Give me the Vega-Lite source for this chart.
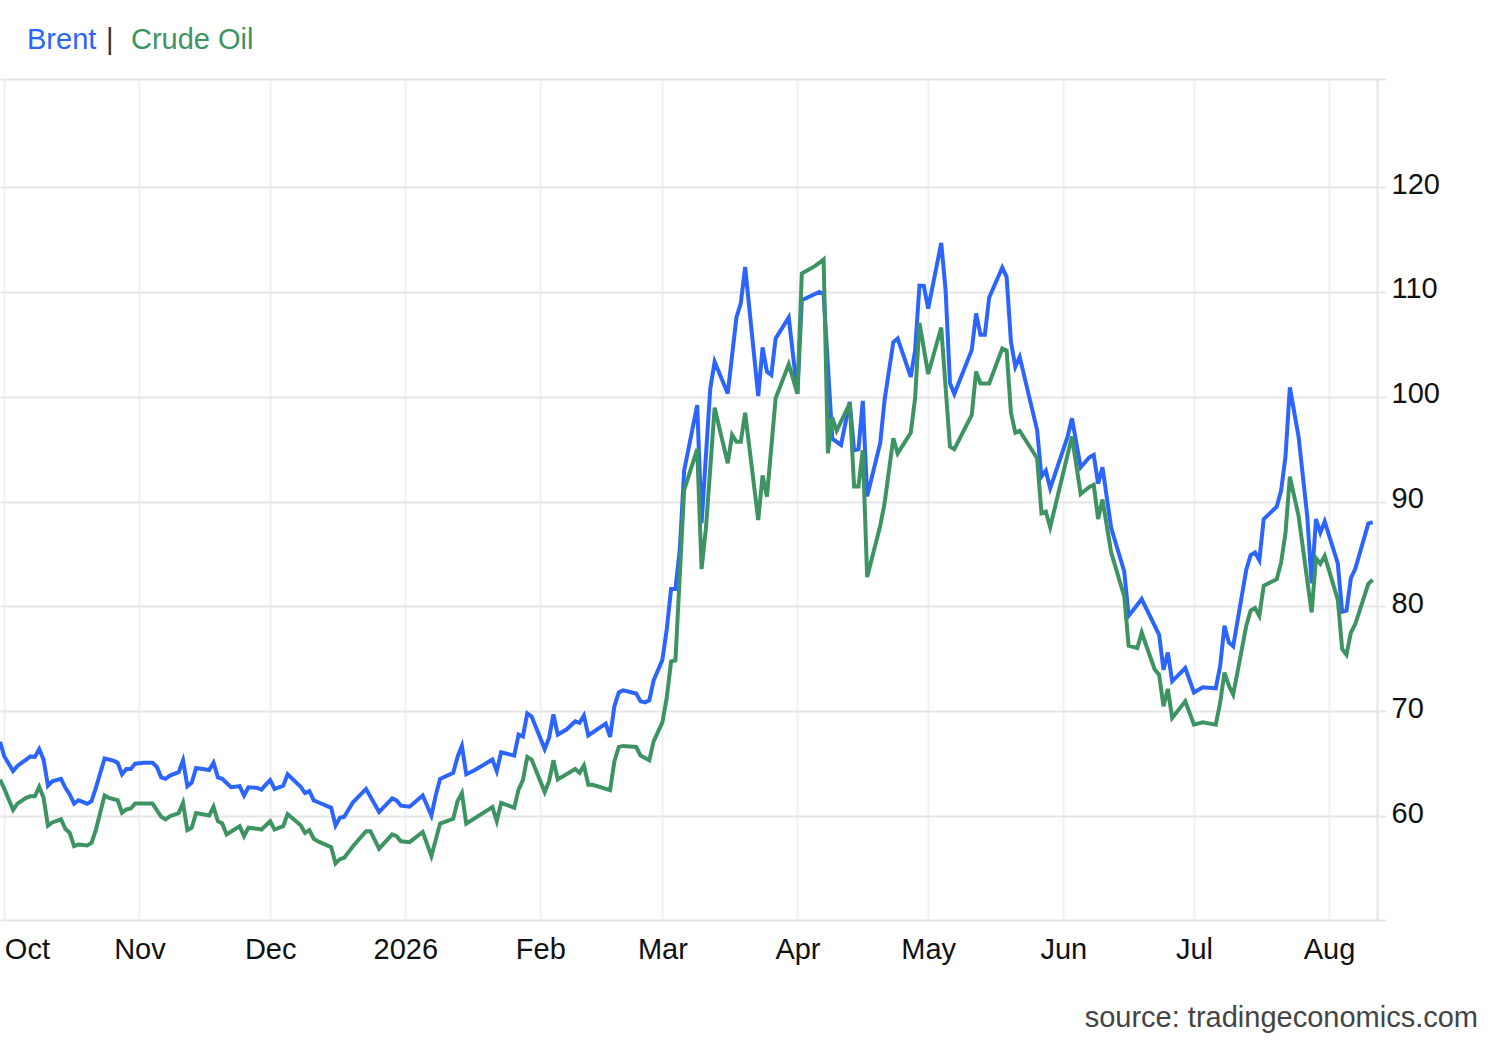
{
  "$schema": "https://vega.github.io/schema/vega-lite/v6.json",
  "description": "Brent vs Crude Oil daily prices, Oct 2025 - Aug 2026",
  "autosize": {"type": "none"},
  "width": 1377,
  "height": 841,
  "padding": {"left": 0, "top": 79, "right": 123, "bottom": 120},
  "background": "white",
  "config": {
    "view": {"stroke": null},
    "font": "Liberation Sans"
  },
  "title": {
    "text": "source: tradingeconomics.com",
    "orient": "bottom",
    "anchor": "end",
    "frame": "group",
    "baseline": "alphabetic",
    "offset": 63,
    "dx": 101,
    "fontSize": 29,
    "fontWeight": "normal",
    "font": "Liberation Sans",
    "color": "#444444"
  },
  "data": {
    "values": [
      {"date": "2025-09-30", "series": "Brent", "price": 67.1},
      {"date": "2025-10-01", "series": "Brent", "price": 65.7},
      {"date": "2025-10-03", "series": "Brent", "price": 64.3},
      {"date": "2025-10-04", "series": "Brent", "price": 64.8},
      {"date": "2025-10-06", "series": "Brent", "price": 65.4},
      {"date": "2025-10-07", "series": "Brent", "price": 65.7},
      {"date": "2025-10-08", "series": "Brent", "price": 65.65},
      {"date": "2025-10-09", "series": "Brent", "price": 66.4},
      {"date": "2025-10-10", "series": "Brent", "price": 65.4},
      {"date": "2025-10-11", "series": "Brent", "price": 62.9},
      {"date": "2025-10-12", "series": "Brent", "price": 63.33},
      {"date": "2025-10-14", "series": "Brent", "price": 63.56},
      {"date": "2025-10-15", "series": "Brent", "price": 62.7},
      {"date": "2025-10-16", "series": "Brent", "price": 62.07},
      {"date": "2025-10-17", "series": "Brent", "price": 61.2},
      {"date": "2025-10-18", "series": "Brent", "price": 61.52},
      {"date": "2025-10-19", "series": "Brent", "price": 61.37},
      {"date": "2025-10-20", "series": "Brent", "price": 61.18},
      {"date": "2025-10-21", "series": "Brent", "price": 61.43},
      {"date": "2025-10-22", "series": "Brent", "price": 62.7},
      {"date": "2025-10-24", "series": "Brent", "price": 65.5},
      {"date": "2025-10-26", "series": "Brent", "price": 65.3},
      {"date": "2025-10-27", "series": "Brent", "price": 65.1},
      {"date": "2025-10-28", "series": "Brent", "price": 64.0},
      {"date": "2025-10-29", "series": "Brent", "price": 64.5},
      {"date": "2025-10-30", "series": "Brent", "price": 64.5},
      {"date": "2025-10-31", "series": "Brent", "price": 65.0},
      {"date": "2025-11-02", "series": "Brent", "price": 65.1},
      {"date": "2025-11-04", "series": "Brent", "price": 65.1},
      {"date": "2025-11-05", "series": "Brent", "price": 64.7},
      {"date": "2025-11-06", "series": "Brent", "price": 63.7},
      {"date": "2025-11-07", "series": "Brent", "price": 63.56},
      {"date": "2025-11-08", "series": "Brent", "price": 63.87},
      {"date": "2025-11-10", "series": "Brent", "price": 64.2},
      {"date": "2025-11-11", "series": "Brent", "price": 65.33},
      {"date": "2025-11-12", "series": "Brent", "price": 62.86},
      {"date": "2025-11-13", "series": "Brent", "price": 63.2},
      {"date": "2025-11-14", "series": "Brent", "price": 64.6},
      {"date": "2025-11-17", "series": "Brent", "price": 64.4},
      {"date": "2025-11-18", "series": "Brent", "price": 65.1},
      {"date": "2025-11-19", "series": "Brent", "price": 63.7},
      {"date": "2025-11-20", "series": "Brent", "price": 63.56},
      {"date": "2025-11-22", "series": "Brent", "price": 62.76},
      {"date": "2025-11-24", "series": "Brent", "price": 62.86},
      {"date": "2025-11-25", "series": "Brent", "price": 61.97},
      {"date": "2025-11-26", "series": "Brent", "price": 62.76},
      {"date": "2025-11-28", "series": "Brent", "price": 62.7},
      {"date": "2025-11-29", "series": "Brent", "price": 62.54},
      {"date": "2025-11-30", "series": "Brent", "price": 63.0},
      {"date": "2025-12-01", "series": "Brent", "price": 63.43},
      {"date": "2025-12-02", "series": "Brent", "price": 62.6},
      {"date": "2025-12-04", "series": "Brent", "price": 62.9},
      {"date": "2025-12-05", "series": "Brent", "price": 64.0},
      {"date": "2025-12-08", "series": "Brent", "price": 62.8},
      {"date": "2025-12-09", "series": "Brent", "price": 62.2},
      {"date": "2025-12-10", "series": "Brent", "price": 62.38},
      {"date": "2025-12-11", "series": "Brent", "price": 61.5},
      {"date": "2025-12-12", "series": "Brent", "price": 61.33},
      {"date": "2025-12-15", "series": "Brent", "price": 60.8},
      {"date": "2025-12-16", "series": "Brent", "price": 59.1},
      {"date": "2025-12-17", "series": "Brent", "price": 59.85},
      {"date": "2025-12-18", "series": "Brent", "price": 59.94},
      {"date": "2025-12-20", "series": "Brent", "price": 61.33},
      {"date": "2025-12-23", "series": "Brent", "price": 62.6},
      {"date": "2025-12-26", "series": "Brent", "price": 60.4},
      {"date": "2025-12-29", "series": "Brent", "price": 61.7},
      {"date": "2025-12-30", "series": "Brent", "price": 61.5},
      {"date": "2025-12-31", "series": "Brent", "price": 61.0},
      {"date": "2026-01-02", "series": "Brent", "price": 60.9},
      {"date": "2026-01-05", "series": "Brent", "price": 61.97},
      {"date": "2026-01-07", "series": "Brent", "price": 60.06},
      {"date": "2026-01-08", "series": "Brent", "price": 62.0},
      {"date": "2026-01-09", "series": "Brent", "price": 63.56},
      {"date": "2026-01-12", "series": "Brent", "price": 64.13},
      {"date": "2026-01-13", "series": "Brent", "price": 65.65},
      {"date": "2026-01-14", "series": "Brent", "price": 66.7},
      {"date": "2026-01-15", "series": "Brent", "price": 64.0},
      {"date": "2026-01-17", "series": "Brent", "price": 64.4},
      {"date": "2026-01-21", "series": "Brent", "price": 65.4},
      {"date": "2026-01-22", "series": "Brent", "price": 64.3},
      {"date": "2026-01-23", "series": "Brent", "price": 66.1},
      {"date": "2026-01-26", "series": "Brent", "price": 65.78},
      {"date": "2026-01-27", "series": "Brent", "price": 67.78},
      {"date": "2026-01-28", "series": "Brent", "price": 67.6},
      {"date": "2026-01-29", "series": "Brent", "price": 69.8},
      {"date": "2026-01-30", "series": "Brent", "price": 69.5},
      {"date": "2026-02-02", "series": "Brent", "price": 66.4},
      {"date": "2026-02-03", "series": "Brent", "price": 67.46},
      {"date": "2026-02-04", "series": "Brent", "price": 69.7},
      {"date": "2026-02-05", "series": "Brent", "price": 67.78},
      {"date": "2026-02-07", "series": "Brent", "price": 68.26},
      {"date": "2026-02-09", "series": "Brent", "price": 69.05},
      {"date": "2026-02-10", "series": "Brent", "price": 68.9},
      {"date": "2026-02-11", "series": "Brent", "price": 69.6},
      {"date": "2026-02-12", "series": "Brent", "price": 67.7},
      {"date": "2026-02-16", "series": "Brent", "price": 68.83},
      {"date": "2026-02-17", "series": "Brent", "price": 67.56},
      {"date": "2026-02-18", "series": "Brent", "price": 70.5},
      {"date": "2026-02-19", "series": "Brent", "price": 71.8},
      {"date": "2026-02-20", "series": "Brent", "price": 72.0},
      {"date": "2026-02-23", "series": "Brent", "price": 71.7},
      {"date": "2026-02-24", "series": "Brent", "price": 70.95},
      {"date": "2026-02-25", "series": "Brent", "price": 70.86},
      {"date": "2026-02-26", "series": "Brent", "price": 71.05},
      {"date": "2026-02-27", "series": "Brent", "price": 72.95},
      {"date": "2026-03-01", "series": "Brent", "price": 74.9},
      {"date": "2026-03-02", "series": "Brent", "price": 77.78},
      {"date": "2026-03-03", "series": "Brent", "price": 81.66},
      {"date": "2026-03-04", "series": "Brent", "price": 81.66},
      {"date": "2026-03-05", "series": "Brent", "price": 85.4},
      {"date": "2026-03-06", "series": "Brent", "price": 92.95},
      {"date": "2026-03-09", "series": "Brent", "price": 99.2},
      {"date": "2026-03-10", "series": "Brent", "price": 87.94},
      {"date": "2026-03-12", "series": "Brent", "price": 100.8},
      {"date": "2026-03-13", "series": "Brent", "price": 103.33},
      {"date": "2026-03-16", "series": "Brent", "price": 100.3},
      {"date": "2026-03-18", "series": "Brent", "price": 107.56},
      {"date": "2026-03-19", "series": "Brent", "price": 108.9},
      {"date": "2026-03-20", "series": "Brent", "price": 112.38},
      {"date": "2026-03-23", "series": "Brent", "price": 100.07},
      {"date": "2026-03-24", "series": "Brent", "price": 104.7},
      {"date": "2026-03-25", "series": "Brent", "price": 102.4},
      {"date": "2026-03-26", "series": "Brent", "price": 102.07},
      {"date": "2026-03-27", "series": "Brent", "price": 105.56},
      {"date": "2026-03-30", "series": "Brent", "price": 107.56},
      {"date": "2026-04-01", "series": "Brent", "price": 100.3},
      {"date": "2026-04-02", "series": "Brent", "price": 109.2},
      {"date": "2026-04-06", "series": "Brent", "price": 110.0},
      {"date": "2026-04-07", "series": "Brent", "price": 109.8},
      {"date": "2026-04-09", "series": "Brent", "price": 96.0},
      {"date": "2026-04-11", "series": "Brent", "price": 95.4},
      {"date": "2026-04-13", "series": "Brent", "price": 99.5},
      {"date": "2026-04-14", "series": "Brent", "price": 94.9},
      {"date": "2026-04-15", "series": "Brent", "price": 95.0},
      {"date": "2026-04-16", "series": "Brent", "price": 99.6},
      {"date": "2026-04-17", "series": "Brent", "price": 90.5},
      {"date": "2026-04-20", "series": "Brent", "price": 95.6},
      {"date": "2026-04-21", "series": "Brent", "price": 99.7},
      {"date": "2026-04-23", "series": "Brent", "price": 105.2},
      {"date": "2026-04-24", "series": "Brent", "price": 105.56},
      {"date": "2026-04-27", "series": "Brent", "price": 101.9},
      {"date": "2026-04-28", "series": "Brent", "price": 104.4},
      {"date": "2026-04-29", "series": "Brent", "price": 110.6},
      {"date": "2026-04-30", "series": "Brent", "price": 110.57},
      {"date": "2026-05-01", "series": "Brent", "price": 108.4},
      {"date": "2026-05-04", "series": "Brent", "price": 114.67},
      {"date": "2026-05-05", "series": "Brent", "price": 110.16},
      {"date": "2026-05-06", "series": "Brent", "price": 101.3},
      {"date": "2026-05-07", "series": "Brent", "price": 100.26},
      {"date": "2026-05-11", "series": "Brent", "price": 104.45},
      {"date": "2026-05-12", "series": "Brent", "price": 107.94},
      {"date": "2026-05-13", "series": "Brent", "price": 105.9},
      {"date": "2026-05-14", "series": "Brent", "price": 105.9},
      {"date": "2026-05-15", "series": "Brent", "price": 109.47},
      {"date": "2026-05-18", "series": "Brent", "price": 112.32},
      {"date": "2026-05-19", "series": "Brent", "price": 111.43},
      {"date": "2026-05-20", "series": "Brent", "price": 105.24},
      {"date": "2026-05-21", "series": "Brent", "price": 102.86},
      {"date": "2026-05-22", "series": "Brent", "price": 103.8},
      {"date": "2026-05-26", "series": "Brent", "price": 96.83},
      {"date": "2026-05-27", "series": "Brent", "price": 92.38},
      {"date": "2026-05-28", "series": "Brent", "price": 92.95},
      {"date": "2026-05-29", "series": "Brent", "price": 91.27},
      {"date": "2026-06-02", "series": "Brent", "price": 96.2},
      {"date": "2026-06-03", "series": "Brent", "price": 97.94},
      {"date": "2026-06-05", "series": "Brent", "price": 93.27},
      {"date": "2026-06-07", "series": "Brent", "price": 94.23},
      {"date": "2026-06-08", "series": "Brent", "price": 94.45},
      {"date": "2026-06-09", "series": "Brent", "price": 91.7},
      {"date": "2026-06-10", "series": "Brent", "price": 93.27},
      {"date": "2026-06-12", "series": "Brent", "price": 87.47},
      {"date": "2026-06-15", "series": "Brent", "price": 83.33},
      {"date": "2026-06-16", "series": "Brent", "price": 79.1},
      {"date": "2026-06-18", "series": "Brent", "price": 80.16},
      {"date": "2026-06-19", "series": "Brent", "price": 80.7},
      {"date": "2026-06-23", "series": "Brent", "price": 77.3},
      {"date": "2026-06-24", "series": "Brent", "price": 73.97},
      {"date": "2026-06-25", "series": "Brent", "price": 75.6},
      {"date": "2026-06-26", "series": "Brent", "price": 72.86},
      {"date": "2026-06-29", "series": "Brent", "price": 74.13},
      {"date": "2026-07-01", "series": "Brent", "price": 71.8},
      {"date": "2026-07-03", "series": "Brent", "price": 72.3},
      {"date": "2026-07-06", "series": "Brent", "price": 72.2},
      {"date": "2026-07-07", "series": "Brent", "price": 74.3},
      {"date": "2026-07-08", "series": "Brent", "price": 78.16},
      {"date": "2026-07-09", "series": "Brent", "price": 76.57},
      {"date": "2026-07-10", "series": "Brent", "price": 76.2},
      {"date": "2026-07-13", "series": "Brent", "price": 83.5},
      {"date": "2026-07-14", "series": "Brent", "price": 84.9},
      {"date": "2026-07-15", "series": "Brent", "price": 85.14},
      {"date": "2026-07-16", "series": "Brent", "price": 84.4},
      {"date": "2026-07-17", "series": "Brent", "price": 88.33},
      {"date": "2026-07-20", "series": "Brent", "price": 89.52},
      {"date": "2026-07-21", "series": "Brent", "price": 91.05},
      {"date": "2026-07-22", "series": "Brent", "price": 94.3},
      {"date": "2026-07-23", "series": "Brent", "price": 100.9},
      {"date": "2026-07-25", "series": "Brent", "price": 96.2},
      {"date": "2026-07-27", "series": "Brent", "price": 88.57},
      {"date": "2026-07-28", "series": "Brent", "price": 82.2},
      {"date": "2026-07-29", "series": "Brent", "price": 88.33},
      {"date": "2026-07-30", "series": "Brent", "price": 87.05},
      {"date": "2026-07-31", "series": "Brent", "price": 88.1},
      {"date": "2026-08-03", "series": "Brent", "price": 84.1},
      {"date": "2026-08-04", "series": "Brent", "price": 79.5},
      {"date": "2026-08-05", "series": "Brent", "price": 79.6},
      {"date": "2026-08-06", "series": "Brent", "price": 82.7},
      {"date": "2026-08-07", "series": "Brent", "price": 83.56},
      {"date": "2026-08-10", "series": "Brent", "price": 87.9},
      {"date": "2026-08-11", "series": "Brent", "price": 88.05},
      {"date": "2025-09-30", "series": "Crude Oil", "price": 63.5},
      {"date": "2025-10-01", "series": "Crude Oil", "price": 62.6},
      {"date": "2025-10-03", "series": "Crude Oil", "price": 60.6},
      {"date": "2025-10-04", "series": "Crude Oil", "price": 61.2},
      {"date": "2025-10-06", "series": "Crude Oil", "price": 61.75},
      {"date": "2025-10-07", "series": "Crude Oil", "price": 61.9},
      {"date": "2025-10-08", "series": "Crude Oil", "price": 61.9},
      {"date": "2025-10-09", "series": "Crude Oil", "price": 62.8},
      {"date": "2025-10-10", "series": "Crude Oil", "price": 61.75},
      {"date": "2025-10-11", "series": "Crude Oil", "price": 59.1},
      {"date": "2025-10-12", "series": "Crude Oil", "price": 59.4},
      {"date": "2025-10-14", "series": "Crude Oil", "price": 59.7},
      {"date": "2025-10-15", "series": "Crude Oil", "price": 58.8},
      {"date": "2025-10-16", "series": "Crude Oil", "price": 58.4},
      {"date": "2025-10-17", "series": "Crude Oil", "price": 57.14},
      {"date": "2025-10-18", "series": "Crude Oil", "price": 57.3},
      {"date": "2025-10-20", "series": "Crude Oil", "price": 57.2},
      {"date": "2025-10-21", "series": "Crude Oil", "price": 57.46},
      {"date": "2025-10-22", "series": "Crude Oil", "price": 58.7},
      {"date": "2025-10-24", "series": "Crude Oil", "price": 61.97},
      {"date": "2025-10-25", "series": "Crude Oil", "price": 61.75},
      {"date": "2025-10-27", "series": "Crude Oil", "price": 61.52},
      {"date": "2025-10-28", "series": "Crude Oil", "price": 60.33},
      {"date": "2025-10-29", "series": "Crude Oil", "price": 60.64},
      {"date": "2025-10-30", "series": "Crude Oil", "price": 60.73},
      {"date": "2025-10-31", "series": "Crude Oil", "price": 61.2},
      {"date": "2025-11-04", "series": "Crude Oil", "price": 61.2},
      {"date": "2025-11-06", "series": "Crude Oil", "price": 59.94},
      {"date": "2025-11-07", "series": "Crude Oil", "price": 59.7},
      {"date": "2025-11-08", "series": "Crude Oil", "price": 60.0},
      {"date": "2025-11-10", "series": "Crude Oil", "price": 60.3},
      {"date": "2025-11-11", "series": "Crude Oil", "price": 61.27},
      {"date": "2025-11-12", "series": "Crude Oil", "price": 58.67},
      {"date": "2025-11-13", "series": "Crude Oil", "price": 58.9},
      {"date": "2025-11-14", "series": "Crude Oil", "price": 60.3},
      {"date": "2025-11-17", "series": "Crude Oil", "price": 60.06},
      {"date": "2025-11-18", "series": "Crude Oil", "price": 60.9},
      {"date": "2025-11-19", "series": "Crude Oil", "price": 59.52},
      {"date": "2025-11-20", "series": "Crude Oil", "price": 59.3},
      {"date": "2025-11-21", "series": "Crude Oil", "price": 58.26},
      {"date": "2025-11-24", "series": "Crude Oil", "price": 59.05},
      {"date": "2025-11-25", "series": "Crude Oil", "price": 58.1},
      {"date": "2025-11-26", "series": "Crude Oil", "price": 58.9},
      {"date": "2025-11-28", "series": "Crude Oil", "price": 58.8},
      {"date": "2025-11-29", "series": "Crude Oil", "price": 58.73},
      {"date": "2025-12-01", "series": "Crude Oil", "price": 59.52},
      {"date": "2025-12-02", "series": "Crude Oil", "price": 58.73},
      {"date": "2025-12-04", "series": "Crude Oil", "price": 59.05},
      {"date": "2025-12-05", "series": "Crude Oil", "price": 60.2},
      {"date": "2025-12-08", "series": "Crude Oil", "price": 59.14},
      {"date": "2025-12-09", "series": "Crude Oil", "price": 58.4},
      {"date": "2025-12-10", "series": "Crude Oil", "price": 58.67},
      {"date": "2025-12-11", "series": "Crude Oil", "price": 57.85},
      {"date": "2025-12-12", "series": "Crude Oil", "price": 57.6},
      {"date": "2025-12-15", "series": "Crude Oil", "price": 57.05},
      {"date": "2025-12-16", "series": "Crude Oil", "price": 55.5},
      {"date": "2025-12-17", "series": "Crude Oil", "price": 55.9},
      {"date": "2025-12-18", "series": "Crude Oil", "price": 56.04},
      {"date": "2025-12-20", "series": "Crude Oil", "price": 57.14},
      {"date": "2025-12-23", "series": "Crude Oil", "price": 58.57},
      {"date": "2025-12-24", "series": "Crude Oil", "price": 58.57},
      {"date": "2025-12-26", "series": "Crude Oil", "price": 56.9},
      {"date": "2025-12-29", "series": "Crude Oil", "price": 58.26},
      {"date": "2025-12-30", "series": "Crude Oil", "price": 58.1},
      {"date": "2025-12-31", "series": "Crude Oil", "price": 57.6},
      {"date": "2026-01-02", "series": "Crude Oil", "price": 57.52},
      {"date": "2026-01-05", "series": "Crude Oil", "price": 58.5},
      {"date": "2026-01-07", "series": "Crude Oil", "price": 56.2},
      {"date": "2026-01-09", "series": "Crude Oil", "price": 59.3},
      {"date": "2026-01-12", "series": "Crude Oil", "price": 59.75},
      {"date": "2026-01-13", "series": "Crude Oil", "price": 61.43},
      {"date": "2026-01-14", "series": "Crude Oil", "price": 62.2},
      {"date": "2026-01-15", "series": "Crude Oil", "price": 59.28},
      {"date": "2026-01-21", "series": "Crude Oil", "price": 60.86},
      {"date": "2026-01-22", "series": "Crude Oil", "price": 59.52},
      {"date": "2026-01-23", "series": "Crude Oil", "price": 61.27},
      {"date": "2026-01-26", "series": "Crude Oil", "price": 60.8},
      {"date": "2026-01-27", "series": "Crude Oil", "price": 62.54},
      {"date": "2026-01-28", "series": "Crude Oil", "price": 63.43},
      {"date": "2026-01-29", "series": "Crude Oil", "price": 65.65},
      {"date": "2026-01-30", "series": "Crude Oil", "price": 65.4},
      {"date": "2026-02-02", "series": "Crude Oil", "price": 62.3},
      {"date": "2026-02-03", "series": "Crude Oil", "price": 63.33},
      {"date": "2026-02-04", "series": "Crude Oil", "price": 65.33},
      {"date": "2026-02-05", "series": "Crude Oil", "price": 63.5},
      {"date": "2026-02-09", "series": "Crude Oil", "price": 64.5},
      {"date": "2026-02-10", "series": "Crude Oil", "price": 64.13},
      {"date": "2026-02-11", "series": "Crude Oil", "price": 64.83},
      {"date": "2026-02-12", "series": "Crude Oil", "price": 63.0},
      {"date": "2026-02-13", "series": "Crude Oil", "price": 63.0},
      {"date": "2026-02-17", "series": "Crude Oil", "price": 62.48},
      {"date": "2026-02-18", "series": "Crude Oil", "price": 65.24},
      {"date": "2026-02-19", "series": "Crude Oil", "price": 66.6},
      {"date": "2026-02-20", "series": "Crude Oil", "price": 66.7},
      {"date": "2026-02-23", "series": "Crude Oil", "price": 66.6},
      {"date": "2026-02-24", "series": "Crude Oil", "price": 65.78},
      {"date": "2026-02-26", "series": "Crude Oil", "price": 65.33},
      {"date": "2026-02-27", "series": "Crude Oil", "price": 67.14},
      {"date": "2026-03-01", "series": "Crude Oil", "price": 68.95},
      {"date": "2026-03-02", "series": "Crude Oil", "price": 71.28},
      {"date": "2026-03-03", "series": "Crude Oil", "price": 74.76},
      {"date": "2026-03-04", "series": "Crude Oil", "price": 74.86},
      {"date": "2026-03-06", "series": "Crude Oil", "price": 91.1},
      {"date": "2026-03-09", "series": "Crude Oil", "price": 95.0},
      {"date": "2026-03-10", "series": "Crude Oil", "price": 83.56},
      {"date": "2026-03-11", "series": "Crude Oil", "price": 87.47},
      {"date": "2026-03-13", "series": "Crude Oil", "price": 98.95},
      {"date": "2026-03-16", "series": "Crude Oil", "price": 93.66},
      {"date": "2026-03-17", "series": "Crude Oil", "price": 96.36},
      {"date": "2026-03-18", "series": "Crude Oil", "price": 95.7},
      {"date": "2026-03-19", "series": "Crude Oil", "price": 95.7},
      {"date": "2026-03-20", "series": "Crude Oil", "price": 98.48},
      {"date": "2026-03-23", "series": "Crude Oil", "price": 88.25},
      {"date": "2026-03-24", "series": "Crude Oil", "price": 92.5},
      {"date": "2026-03-25", "series": "Crude Oil", "price": 90.48},
      {"date": "2026-03-27", "series": "Crude Oil", "price": 99.85},
      {"date": "2026-03-30", "series": "Crude Oil", "price": 103.1},
      {"date": "2026-04-01", "series": "Crude Oil", "price": 100.3},
      {"date": "2026-04-02", "series": "Crude Oil", "price": 111.75},
      {"date": "2026-04-05", "series": "Crude Oil", "price": 112.45},
      {"date": "2026-04-06", "series": "Crude Oil", "price": 112.76},
      {"date": "2026-04-07", "series": "Crude Oil", "price": 113.1},
      {"date": "2026-04-08", "series": "Crude Oil", "price": 94.6},
      {"date": "2026-04-09", "series": "Crude Oil", "price": 98.0},
      {"date": "2026-04-10", "series": "Crude Oil", "price": 96.76},
      {"date": "2026-04-13", "series": "Crude Oil", "price": 99.37},
      {"date": "2026-04-14", "series": "Crude Oil", "price": 91.43},
      {"date": "2026-04-15", "series": "Crude Oil", "price": 91.43},
      {"date": "2026-04-16", "series": "Crude Oil", "price": 94.9},
      {"date": "2026-04-17", "series": "Crude Oil", "price": 82.8},
      {"date": "2026-04-20", "series": "Crude Oil", "price": 87.7},
      {"date": "2026-04-21", "series": "Crude Oil", "price": 89.85},
      {"date": "2026-04-23", "series": "Crude Oil", "price": 96.04},
      {"date": "2026-04-24", "series": "Crude Oil", "price": 94.6},
      {"date": "2026-04-27", "series": "Crude Oil", "price": 96.57},
      {"date": "2026-04-28", "series": "Crude Oil", "price": 99.85},
      {"date": "2026-04-29", "series": "Crude Oil", "price": 107.05},
      {"date": "2026-05-01", "series": "Crude Oil", "price": 102.16},
      {"date": "2026-05-04", "series": "Crude Oil", "price": 106.6},
      {"date": "2026-05-06", "series": "Crude Oil", "price": 95.24},
      {"date": "2026-05-07", "series": "Crude Oil", "price": 95.0},
      {"date": "2026-05-11", "series": "Crude Oil", "price": 98.26},
      {"date": "2026-05-12", "series": "Crude Oil", "price": 102.4},
      {"date": "2026-05-13", "series": "Crude Oil", "price": 101.27},
      {"date": "2026-05-15", "series": "Crude Oil", "price": 101.27},
      {"date": "2026-05-18", "series": "Crude Oil", "price": 104.6},
      {"date": "2026-05-19", "series": "Crude Oil", "price": 104.4},
      {"date": "2026-05-20", "series": "Crude Oil", "price": 98.48},
      {"date": "2026-05-21", "series": "Crude Oil", "price": 96.57},
      {"date": "2026-05-22", "series": "Crude Oil", "price": 96.76},
      {"date": "2026-05-26", "series": "Crude Oil", "price": 94.13},
      {"date": "2026-05-27", "series": "Crude Oil", "price": 88.9},
      {"date": "2026-05-28", "series": "Crude Oil", "price": 89.05},
      {"date": "2026-05-29", "series": "Crude Oil", "price": 87.56},
      {"date": "2026-06-03", "series": "Crude Oil", "price": 96.2},
      {"date": "2026-06-05", "series": "Crude Oil", "price": 90.73},
      {"date": "2026-06-07", "series": "Crude Oil", "price": 91.4},
      {"date": "2026-06-08", "series": "Crude Oil", "price": 91.6},
      {"date": "2026-06-09", "series": "Crude Oil", "price": 88.33},
      {"date": "2026-06-10", "series": "Crude Oil", "price": 90.2},
      {"date": "2026-06-12", "series": "Crude Oil", "price": 85.14},
      {"date": "2026-06-15", "series": "Crude Oil", "price": 80.95},
      {"date": "2026-06-16", "series": "Crude Oil", "price": 76.26},
      {"date": "2026-06-18", "series": "Crude Oil", "price": 76.04},
      {"date": "2026-06-19", "series": "Crude Oil", "price": 77.52},
      {"date": "2026-06-22", "series": "Crude Oil", "price": 73.97},
      {"date": "2026-06-23", "series": "Crude Oil", "price": 73.5},
      {"date": "2026-06-24", "series": "Crude Oil", "price": 70.48},
      {"date": "2026-06-25", "series": "Crude Oil", "price": 72.14},
      {"date": "2026-06-26", "series": "Crude Oil", "price": 69.37},
      {"date": "2026-06-29", "series": "Crude Oil", "price": 70.95},
      {"date": "2026-07-01", "series": "Crude Oil", "price": 68.73},
      {"date": "2026-07-03", "series": "Crude Oil", "price": 68.95},
      {"date": "2026-07-06", "series": "Crude Oil", "price": 68.73},
      {"date": "2026-07-07", "series": "Crude Oil", "price": 70.8},
      {"date": "2026-07-08", "series": "Crude Oil", "price": 73.7},
      {"date": "2026-07-09", "series": "Crude Oil", "price": 72.45},
      {"date": "2026-07-10", "series": "Crude Oil", "price": 71.6},
      {"date": "2026-07-13", "series": "Crude Oil", "price": 78.16},
      {"date": "2026-07-14", "series": "Crude Oil", "price": 79.6},
      {"date": "2026-07-15", "series": "Crude Oil", "price": 79.85},
      {"date": "2026-07-16", "series": "Crude Oil", "price": 79.1},
      {"date": "2026-07-17", "series": "Crude Oil", "price": 81.97},
      {"date": "2026-07-20", "series": "Crude Oil", "price": 82.6},
      {"date": "2026-07-21", "series": "Crude Oil", "price": 84.2},
      {"date": "2026-07-22", "series": "Crude Oil", "price": 87.0},
      {"date": "2026-07-23", "series": "Crude Oil", "price": 92.38},
      {"date": "2026-07-25", "series": "Crude Oil", "price": 88.64},
      {"date": "2026-07-28", "series": "Crude Oil", "price": 79.43},
      {"date": "2026-07-29", "series": "Crude Oil", "price": 84.6},
      {"date": "2026-07-30", "series": "Crude Oil", "price": 84.07},
      {"date": "2026-07-31", "series": "Crude Oil", "price": 84.83},
      {"date": "2026-08-03", "series": "Crude Oil", "price": 80.65},
      {"date": "2026-08-04", "series": "Crude Oil", "price": 75.95},
      {"date": "2026-08-05", "series": "Crude Oil", "price": 75.4},
      {"date": "2026-08-06", "series": "Crude Oil", "price": 77.5},
      {"date": "2026-08-07", "series": "Crude Oil", "price": 78.3},
      {"date": "2026-08-10", "series": "Crude Oil", "price": 82.16},
      {"date": "2026-08-11", "series": "Crude Oil", "price": 82.55}
    ]
  },
  "mark": {"type": "line", "strokeWidth": 4, "clip": true},
  "encoding": {
    "x": {
      "field": "date",
      "type": "temporal",
      "scale": {
        "type": "utc",
        "domain": [
          {"year": 2025, "month": 9, "date": 30, "utc": true},
          {"year": 2026, "month": 8, "date": 12, "utc": true}
        ]
      },
      "axis": {
        "title": null,
        "tickCount": {"interval": "month", "step": 1},
        "labelExpr": "utcmonth(datum.value) == 0 ? utcFormat(datum.value, '%Y') : utcFormat(datum.value, '%b')",
        "labelFontSize": 29,
        "labelFont": "Liberation Sans",
        "labelColor": "#111111",
        "labelPadding": 15,
        "labelFlush": 10,
        "labelOverlap": false,
        "ticks": false,
        "domain": false,
        "grid": true,
        "gridColor": "#eef2f6",
        "gridWidth": 2
      }
    },
    "y": {
      "field": "price",
      "type": "quantitative",
      "scale": {"domain": [50.1, 130.3], "nice": false, "zero": false},
      "axis": {
        "title": null,
        "orient": "right",
        "values": [50.1, 60, 70, 80, 90, 100, 110, 120, 130.3],
        "labelExpr": "datum.value % 10 == 0 ? datum.label : ''",
        "labelFontSize": 29,
        "labelFont": "Liberation Sans",
        "labelColor": "#111111",
        "labelPadding": 5,
        "labelOffset": -3,
        "tickSize": 9,
        "tickColor": "#e6e6e6",
        "tickWidth": 2,
        "domain": true,
        "domainColor": "#e6e6e6",
        "domainWidth": 2,
        "grid": true,
        "gridColor": "#e6e6e6",
        "gridWidth": 2
      }
    },
    "color": {
      "field": "series",
      "type": "nominal",
      "scale": {
        "domain": ["Brent", "|", "Crude Oil"],
        "range": ["#2c64ff", "#333333", "#3d9462"]
      },
      "legend": {
        "title": null,
        "orient": "none",
        "direction": "horizontal",
        "gridAlign": "none",
        "legendX": 28,
        "legendY": -54,
        "symbolType": "circle",
        "symbolSize": 0,
        "symbolStrokeWidth": 0,
        "symbolOpacity": 0,
        "labelOffset": -30,
        "columnPadding": 9,
        "labelFontSize": 29,
        "labelFont": "Liberation Sans",
        "labelLimit": 0,
        "encoding": {
          "labels": {
            "fill": {
              "condition": [
                {"test": "datum.value == 'Brent'", "value": "#2c64ff"},
                {"test": "datum.value == '|'", "value": "#333333"}
              ],
              "value": "#3d9462"
            }
          }
        }
      }
    }
  }
}
